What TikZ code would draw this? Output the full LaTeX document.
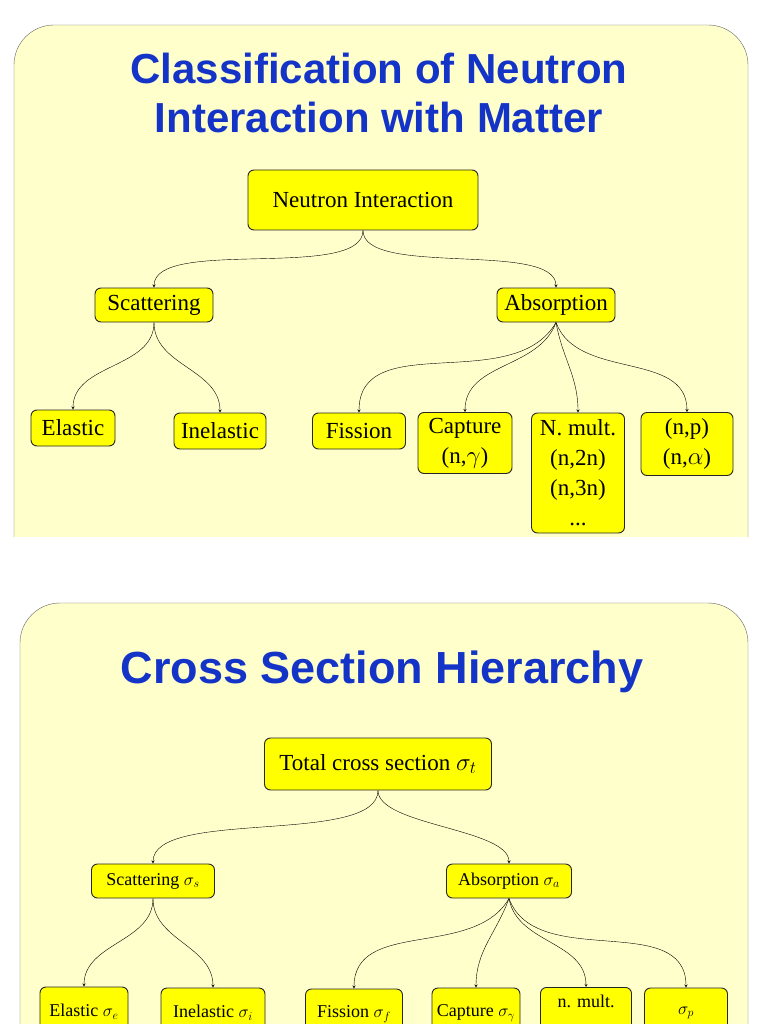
\documentclass[tikz,border=0pt]{standalone}
\usepackage{fontspec}
\setmainfont{Liberation Serif}
\newfontfamily\titlefont{Liberation Sans}
\usetikzlibrary{positioning,shapes,arrows}
\definecolor{slide}{HTML}{FFFFCC}
\definecolor{boxyel}{HTML}{FFFF00}
\definecolor{titleblue}{HTML}{1434C8}
\begin{document}
\begin{tikzpicture}[x=1pt,y=-1pt]
\tikzstyle{box}=[draw=black!85,line width=0.9pt,fill=boxyel,rounded corners=6pt,inner sep=0pt,align=center,font=\fontsize{23}{30}\selectfont]
\tikzstyle{sbox}=[box,font=\fontsize{18}{22}\selectfont]
\tikzstyle{link}=[->,>=stealth,thin]
\useasboundingbox (0,0) rectangle (768,1024);
\clip (0,0) rectangle (768,1024);
% panels
\fill [slide,draw=black!60] (14,25) [rounded corners=40pt] rectangle (748,600);
\fill [white] (0,537) rectangle (768,603);
\fill [slide,draw=black!60] (20,603) [rounded corners=40pt] rectangle (748,1100);
\node [font=\titlefont\bfseries\fontsize{42}{49}\selectfont,text=titleblue,align=center] (title1) at (379,93) {Classification of Neutron\\Interaction with Matter};
\node [font=\titlefont\bfseries\fontsize{45}{50}\selectfont,text=titleblue] (title2) at (382,672) {Cross Section Hierarchy};
% first tree
\node [box,minimum width=230pt,minimum height=60pt] (ni) at (363,200) {Neutron Interaction};
\node [box,minimum width=118pt,minimum height=34pt] (sc) at (154,305) {Scattering};
\node [box,minimum width=84pt,minimum height=36pt] (el) at (73,428) {Elastic};
\node [box,minimum width=118pt,minimum height=34pt] (ab) at (556,305) {Absorption};
\node [box,minimum width=92pt,minimum height=36pt] (in) at (220,431) {Inelastic};
\node [box,minimum width=93pt,minimum height=36pt] (fi) at (359,431) {Fission};
\node [box,minimum width=94pt,minimum height=61pt] (ca) at (465,443) {Capture\\(n,$\gamma$)};
\node [box,minimum width=93pt,minimum height=120pt] (nm) at (578,473) {N. mult.\\(n,2n)\\(n,3n)\\...};
\node [box,minimum width=92pt,minimum height=63pt] (np) at (687,444) {(n,p)\\(n,$\alpha$)};
\draw [link] (ni.south) to [out=-90,in=90,looseness=0.6] (sc.north);
\draw [link] (ni.south) to [out=-90,in=90,looseness=0.6] (ab.north);
\draw [link] (sc.south) to [out=-90,in=90] (el.north);
\draw [link] (sc.south) to [out=-90,in=90] (in.north);
\draw [link] (ab.south) to [out=-120,in=90] (fi.north);
\draw [link] (ab.south) to [out=-110,in=90] (ca.north);
\draw [link] (ab.south) to [out=-80,in=90] (nm.north);
\draw [link] (ab.south) to [out=-70,in=90] (np.north);
% second tree
\node [box,minimum width=227pt,minimum height=52pt] (tot) at (378,764) {Total cross section $\sigma_t$};
\node [sbox,minimum width=123pt,minimum height=34pt] (scs) at (153,881) {Scattering $\sigma_s$};
\node [sbox,minimum width=125pt,minimum height=34pt] (abs) at (509,881) {Absorption $\sigma_a$};
\node [sbox,minimum width=88pt,minimum height=50pt] (els) at (84,1012) {Elastic $\sigma_e$};
\node [sbox,minimum width=104pt,minimum height=50pt] (ins) at (213,1013) {Inelastic $\sigma_i$};
\node [sbox,minimum width=97pt,minimum height=50pt] (fis) at (354,1014) {Fission $\sigma_f$};
\node [sbox,minimum width=88pt,minimum height=50pt] (cas) at (476,1013) {Capture $\sigma_\gamma$};
\node [sbox,minimum width=91pt,minimum height=50pt,anchor=north,inner ysep=8pt] (nms) at (586,987) {n. mult.\\ \\ };
\node [sbox,minimum width=83pt,minimum height=50pt] (nps) at (686,1013) {$\sigma_p$};
\draw [link] (tot.south) to [out=-90,in=90,looseness=0.6] (scs.north);
\draw [link] (tot.south) to [out=-90,in=90,looseness=0.6] (abs.north);
\draw [link] (scs.south) to [out=-90,in=90] (els.north);
\draw [link] (scs.south) to [out=-90,in=90] (ins.north);
\draw [link] (abs.south) to [out=-120,in=90] (fis.north);
\draw [link] (abs.south) to [out=-110,in=90] (cas.north);
\draw [link] (abs.south) to [out=-80,in=90] (nms.north);
\draw [link] (abs.south) to [out=-70,in=90] (nps.north);
\end{tikzpicture}
\end{document}
